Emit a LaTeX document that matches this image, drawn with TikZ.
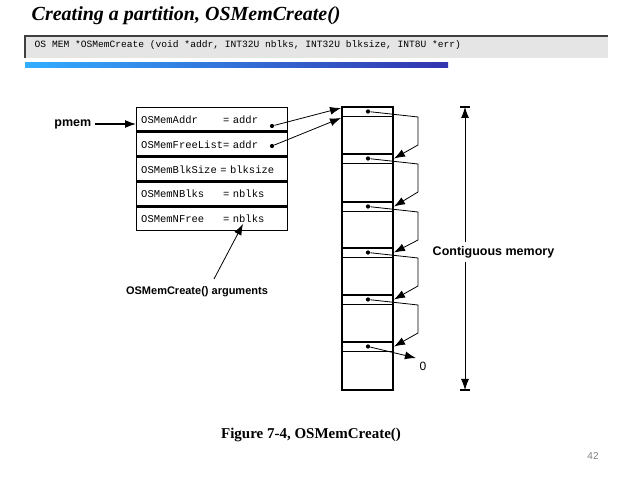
\documentclass[tikz,border=0pt]{standalone}
\usepackage{fontspec}
\setmainfont{Liberation Serif}
\newfontfamily\sansf{Liberation Sans}
\newfontfamily\monof{Liberation Mono}
\usetikzlibrary{arrows.meta,positioning}
\newcommand{\gap}[1]{\hphantom{#1}}
\begin{document}
\begin{tikzpicture}[x=1pt,y=-1pt,line width=0.8pt]

\tikzset{field/.style = {draw,line width=1.4pt,minimum width=151pt,minimum height=23.5pt,inner sep=0pt,
  font=\monof\fontsize{10.5}{11}\selectfont,text width=142pt,align=left}}
\tikzset{arc/.style = {-{Latex[length=11pt,width=8pt]}}}
\tikzset{lbl/.style = {font=\sansf\bfseries\fontsize{12.5}{13}\selectfont}}
\tikzset{dot/.style = {circle,fill,inner sep=1.5pt}}

\useasboundingbox (0,0) rectangle (638,478);

% header
\node[anchor=west,font=\bfseries\itshape\fontsize{20}{22}\selectfont] (title) at (28,16) {Creating a partition, OSMemCreate()};
\fill[gray!20] (25,36) rectangle (608,58);
\draw[line width=1.5pt,black!75] (25,58) -- (25,36) -- (608,36);
\node[anchor=west,font=\monof\fontsize{9.6}{10}\selectfont] (proto) at (31,45) {OS MEM *OSMemCreate (void *addr, INT32U nblks, INT32U blksize, INT8U *err)};
\shade[left color=blue!40!cyan!80,right color=blue!60!black!80] (25,63) rectangle (448,68);

% fields
\node[field,anchor=north west] (f1) at (136,107) {OSMemAddr\gap{xxxx}= addr};
\node[field,below=0pt of f1] (f2) {OSMemFreeList= addr};
\node[field,below=0pt of f2] (f3) {OSMemBlkSize = blksize};
\node[field,below=0pt of f3] (f4) {OSMemNBlks\gap{xxx}= nblks};
\node[field,below=0pt of f4] (f5) {OSMemNFree\gap{xxx}= nblks};

% labels
\node[lbl,anchor=east] (pmem) at (95,124) {pmem};
\node[lbl,font=\sansf\bfseries\fontsize{11}{12}\selectfont] (args) at (197,292) {OSMemCreate() arguments};
\node[lbl,anchor=west] (cont) at (429,252) {Contiguous memory};
\node[font=\bfseries\fontsize{15}{16}\selectfont] (cap) at (311,435) {Figure 7-4, OSMemCreate()};
\node[text=gray,font=\sansf\fontsize{10}{11}\selectfont] (page) at (593,456) {42};

% memory
\draw[line width=1.4pt] (342,107) rectangle (393,390);
\foreach \t [count=\i] in {107,154,202,248,295,342} {
  \draw[line width=1.4pt] (342,\t) -- (393,\t);
  \draw (342,\t+9) -- (393,\t+9);
  \node[dot] (d\i) at (368,\t+4.5) {};
  \coordinate (s\i) at (394,\t+4.5);
  \coordinate (u\i) at (418,\t+10);
  \coordinate (v\i) at (418,\t+38);
}
\foreach \i/\j in {1/2,2/3,3/4,4/5,5/6} {
  \draw[arc] (d\i) -- (u\i) -- (v\i) -- (s\j);
}
\node[font=\sansf\fontsize{12}{13}\selectfont] (zero) at (423,366) {0};
\draw[arc] (d6) -- (zero.north west);

% pointers
\node[dot] (p1) at (272,126) {};
\node[dot] (p2) at (272,146) {};
\coordinate (m1) at (341,108);
\coordinate (m2) at (341,118);
\draw[arc] (p1) -- (m1);
\draw[arc] (p2) -- (m2);
\draw[arc,line width=1.2pt] (pmem) -- (f1.west |- pmem);
\coordinate (a0) at (214,279);
\draw[arc] (a0) -- (243,224);

% extent
\coordinate (top) at (465,107);
\coordinate (bot) at (465,390);
\draw[arc] (cont.north -| top) -- (top);
\draw[arc] (cont.south -| top) -- (bot);
\draw[line width=1.4pt] ([xshift=-5]top) -- ([xshift=5]top) ([xshift=-5]bot) -- ([xshift=5]bot);

\end{tikzpicture}
\end{document}
